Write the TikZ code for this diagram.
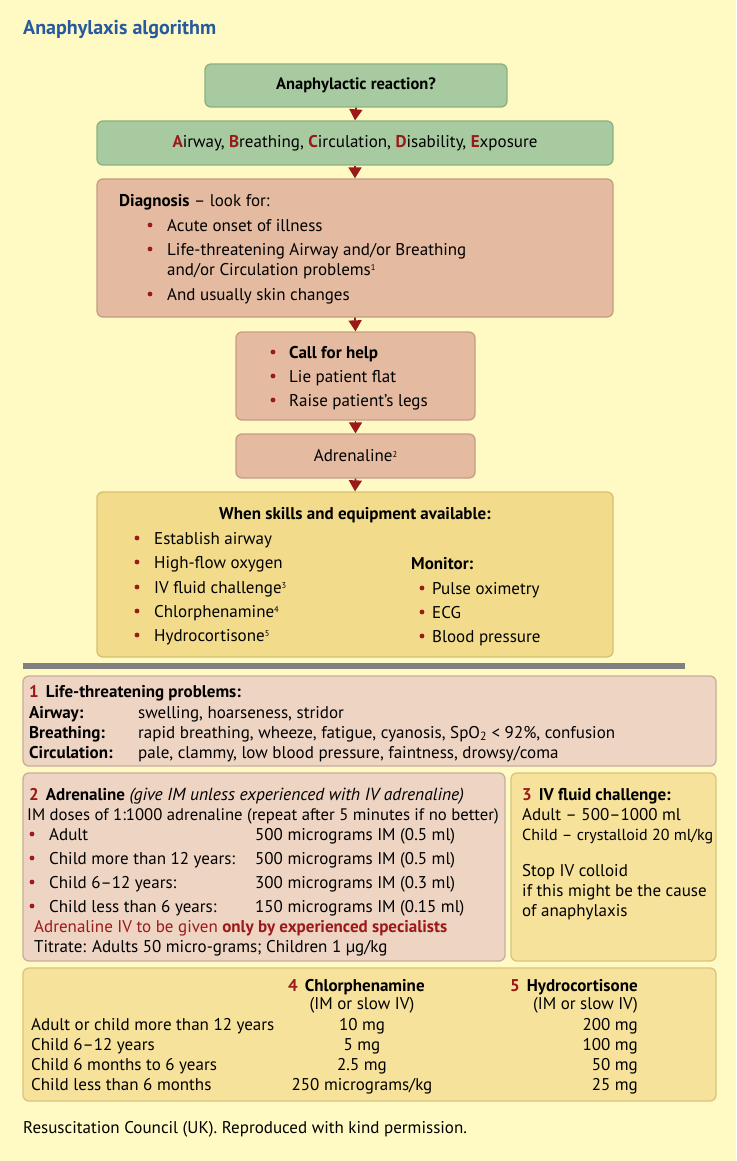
\documentclass[tikz,border=0pt]{standalone}
\usepackage{fontspec}
\setmainfont{PT Sans}
\usetikzlibrary{arrows.meta}
\definecolor{bg}{RGB}{255,250,195}
\definecolor{gfill}{RGB}{168,202,160}
\definecolor{gdraw}{RGB}{140,176,130}
\definecolor{pfill}{RGB}{228,186,160}
\definecolor{pdraw}{RGB}{198,158,132}
\definecolor{yfill}{RGB}{242,220,140}
\definecolor{ydraw}{RGB}{214,192,112}
\definecolor{lpfill}{RGB}{238,212,195}
\definecolor{lpdraw}{RGB}{200,172,158}
\definecolor{lyfill}{RGB}{246,226,155}
\definecolor{lydraw}{RGB}{216,196,126}
\definecolor{dred}{RGB}{155,25,25}
\definecolor{tblue}{RGB}{38,90,160}
\definecolor{bargray}{RGB}{128,128,128}
\newcommand{\R}[1]{\textcolor{dred}{\textbf{#1}}}
\newcommand{\Sup}[1]{\raisebox{4.5pt}{\fontsize{8.5}{9}\selectfont #1}}
\begin{document}
\begin{tikzpicture}[x=1pt,y=-1pt,
  box/.style={rounded corners=6pt, line width=1.3pt, inner sep=0pt},
  gbox/.style={box, draw=gdraw, fill=gfill},
  pbox/.style={box, draw=pdraw, fill=pfill},
  ybox/.style={box, draw=ydraw, fill=yfill},
  lpbox/.style={box, draw=lpdraw, fill=lpfill},
  lybox/.style={box, draw=lydraw, fill=lyfill},
  txt/.style={anchor=base west, inner sep=0pt, font=\fontsize{17}{20}\selectfont},
  txtc/.style={txt, anchor=base},
  txtr/.style={txt, anchor=base east},
  arr/.style={draw=dred, line width=1.7pt, -{Triangle[width=13pt,length=11pt]}},
  dot/.style={fill=dred}
]
\useasboundingbox[fill=bg] (0,0) rectangle (736,1161);

\node[txt, font=\fontsize{20}{23}\selectfont\bfseries, text=tblue] (title) at (23,35) {Anaphylaxis algorithm};

% flow boxes
\node[gbox, minimum width=302pt, minimum height=43pt, font=\fontsize{16.5}{19}\selectfont\bfseries] (n1) at (356,85.5) {Anaphylactic reaction?};
\node[gbox, minimum width=516pt, minimum height=44pt, font=\fontsize{17}{20}\selectfont] (n2) at (355,143) {\R{A}irway, \R{B}reathing, \R{C}irculation, \R{D}isability, \R{E}xposure};
\node[pbox, minimum width=516pt, minimum height=138pt] (n3) at (355,248) {};
\node[pbox, minimum width=239pt, minimum height=88pt] (n4) at (355.5,376) {};
\node[pbox, minimum width=239pt, minimum height=44pt, font=\fontsize{17}{20}\selectfont] (n5) at (355.5,456) {Adrenaline\Sup{2}};
\node[ybox, minimum width=516pt, minimum height=165pt] (n6) at (355,574.5) {};

\draw[arr] (n1.south) -- (n2.north);
\draw[arr] (n2.south) -- (n3.north);
\draw[arr] (n3.south) -- (n4.north);
\draw[arr] (n4.south) -- (n5.north);
\draw[arr] (n5.south) -- (n6.north);

% diagnosis
\node[txt] (d0) at (119,207) {\textbf{Diagnosis} – look for:};
\fill[dot] (150,225) circle (2.4);
\node[txt] (d1) at (167,231) {Acute onset of illness};
\fill[dot] (150,249) circle (2.4);
\node[txt] (d2) at (167,255) {Life-threatening Airway and/or Breathing};
\node[txt] (d3) at (167,275) {and/or Circulation problems\Sup{1}};
\fill[dot] (150,294) circle (2.4);
\node[txt] (d4) at (167,300) {And usually skin changes};

% call for help
\fill[dot] (273,352) circle (2.4);
\node[txt] (c1) at (289,358) {\textbf{Call for help}};
\fill[dot] (273,376) circle (2.4);
\node[txt] (c2) at (289,382) {Lie patient flat};
\fill[dot] (273,400) circle (2.4);
\node[txt] (c3) at (289,406) {Raise patient’s legs};

% skills
\node[txtc] (s0) at (355,519) {\textbf{When skills and equipment available:}};
\fill[dot] (137,538) circle (2.4);
\node[txt] (s1) at (154,544) {Establish airway};
\fill[dot] (137,562) circle (2.4);
\node[txt] (s2) at (154,568) {High-flow oxygen};
\fill[dot] (137,587) circle (2.4);
\node[txt] (s3) at (154,593) {IV fluid challenge\Sup{3}};
\fill[dot] (137,611) circle (2.4);
\node[txt] (s4) at (154,617) {Chlorphenamine\Sup{4}};
\fill[dot] (137,635) circle (2.4);
\node[txt] (s5) at (154,641) {Hydrocortisone\Sup{5}};
\node[txt] (m0) at (411,569) {\textbf{Monitor:}};
\fill[dot] (422,588) circle (2.4);
\node[txt] (m1) at (432,594) {Pulse oximetry};
\fill[dot] (422,612) circle (2.4);
\node[txt] (m2) at (432,618) {ECG};
\fill[dot] (422,636) circle (2.4);
\node[txt] (m3) at (432,642) {Blood pressure};

% gray bar
\fill[bargray] (23,663) rectangle (685,669);

% box 1 life-threatening
\node[lpbox, minimum width=693pt, minimum height=90pt] (n7) at (369.5,721) {};
\node[txt] (l0) at (29,697) {\R{1}\hspace{7pt}\textbf{Life-threatening problems:}};
\node[txt] (l1a) at (29,718) {\textbf{Airway:}};
\node[txt] (l1b) at (138,718) {swelling, hoarseness, stridor};
\node[txt] (l2a) at (29,738) {\textbf{Breathing:}};
\node[txt] (l2b) at (138,738) {rapid breathing, wheeze, fatigue, cyanosis, SpO\textsubscript{2} < 92\%, confusion};
\node[txt] (l3a) at (29,758) {\textbf{Circulation:}};
\node[txt] (l3b) at (138,758) {pale, clammy, low blood pressure, faintness, drowsy/coma};

% box 2 adrenaline
\node[lpbox, minimum width=482pt, minimum height=188pt] (n8) at (264,867) {};
\node[txt] (a0) at (29,800) {\R{2}\hspace{7pt}\textbf{Adrenaline} {\fontsize{17.5}{20}\selectfont\itshape (give IM unless experienced with IV adrenaline)}};
\node[txt, font=\fontsize{16.7}{20}\selectfont] (a1) at (27,820) {IM doses of 1:1000 adrenaline (repeat after 5 minutes if no better)};
\fill[dot] (32,834) circle (2.4);
\node[txt] (a2) at (49,840) {Adult};
\node[txt] (a2v) at (255,840) {500 micrograms IM (0.5 ml)};
\fill[dot] (32,858) circle (2.4);
\node[txt] (a3) at (49,864) {Child more than 12 years:};
\node[txt] (a3v) at (255,864) {500 micrograms IM (0.5 ml)};
\fill[dot] (32,882) circle (2.4);
\node[txt] (a4) at (49,888) {Child 6–12 years:};
\node[txt] (a4v) at (255,888) {300 micrograms IM (0.3 ml)};
\fill[dot] (32,906) circle (2.4);
\node[txt] (a5) at (49,912) {Child less than 6 years:};
\node[txt] (a5v) at (255,912) {150 micrograms IM (0.15 ml)};
\node[txt, text=dred] (a6) at (34,932) {Adrenaline IV to be given \textbf{only by experienced specialists}};
\node[txt] (a7) at (34,952) {Titrate: Adults 50 micro-grams; Children 1 µg/kg};

% box 3 IV fluid
\node[lybox, minimum width=205pt, minimum height=188pt] (n9) at (613.5,867) {};
\node[txt] (f0) at (522,800) {\R{3}\hspace{7pt}\textbf{IV fluid challenge:}};
\node[txt] (f1) at (522,820) {Adult – 500–1000 ml};
\node[txt, font=\fontsize{16}{19}\selectfont] (f2) at (522,840) {Child – crystalloid 20 ml/kg};
\node[txt] (f3) at (522,876) {Stop IV colloid};
\node[txt] (f4) at (522,896) {if this might be the cause};
\node[txt] (f5) at (522,916) {of anaphylaxis};

% box 4/5 table
\node[lybox, minimum width=693pt, minimum height=133pt] (n10) at (369.5,1034.5) {};
\node[txt] (h4) at (288,991) {\R{4}\hspace{7pt}\textbf{Chlorphenamine}};
\node[txtc] (h4b) at (362,1009) {(IM or slow IV)};
\node[txt] (h5) at (510,991) {\R{5}\hspace{7pt}\textbf{Hydrocortisone}};
\node[txtr] (h5b) at (638,1009) {(IM or slow IV)};
\node[txt] (r1) at (31,1030) {Adult or child more than 12 years};
\node[txtc] (r1c) at (362,1030) {10 mg};
\node[txtr] (r1h) at (638,1030) {200 mg};
\node[txt] (r2) at (31,1050) {Child 6–12 years};
\node[txtc] (r2c) at (362,1050) {5 mg};
\node[txtr] (r2h) at (638,1050) {100 mg};
\node[txt] (r3) at (31,1070) {Child 6 months to 6 years};
\node[txtc] (r3c) at (362,1070) {2.5 mg};
\node[txtr] (r3h) at (638,1070) {50 mg};
\node[txt] (r4) at (31,1090) {Child less than 6 months};
\node[txtc] (r4c) at (362,1090) {250 micrograms/kg};
\node[txtr] (r4h) at (638,1090) {25 mg};

\node[txt] (foot) at (23,1133) {Resuscitation Council (UK). Reproduced with kind permission.};
\end{tikzpicture}
\end{document}
